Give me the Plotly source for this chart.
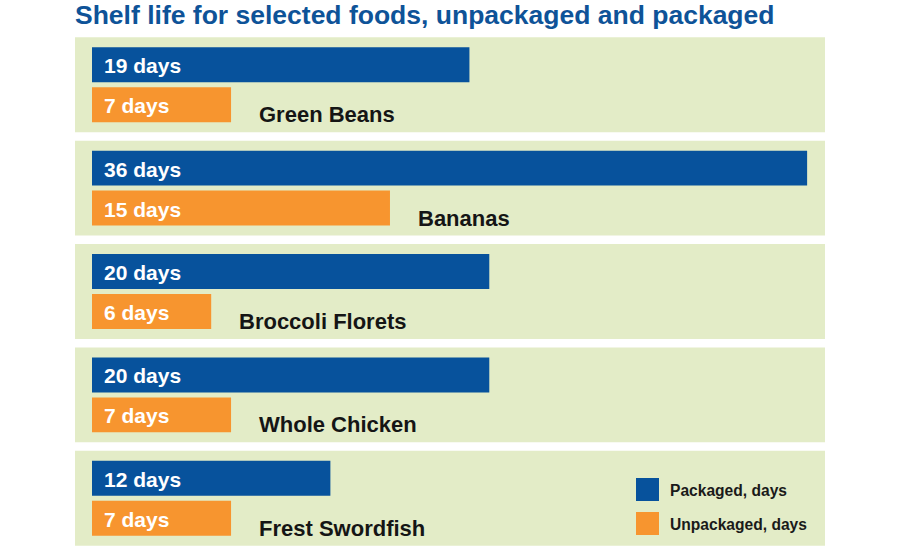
import plotly.graph_objects as go

categories = ["Green Beans", "Bananas", "Broccoli Florets", "Whole Chicken", "Frest Swordfish"]
packaged = [19, 36, 20, 20, 12]
unpackaged = [7, 15, 6, 7, 7]
series_names = ["Packaged, days", "Unpackaged, days"]
title_text = "Shelf life for selected foods, unpackaged and packaged"

BLUE = "#07529c"
ORANGE = "#f7952f"
PANEL = "#e3ecc7"
TITLE_C = "#0e5398"
FONT = "Liberation Sans, Arial, sans-serif"

W, H = 900, 550
L, R, T, B = 75, 75, 33, 0
PW, PH = W - L - R, H - T - B


def px_x(px):
    return (px - L) / PW


def px_y(py):
    return (H - B - py) / PH


fig = go.Figure()
fig.add_trace(go.Bar(y=categories, x=packaged, orientation="h", name=series_names[0],
                     marker=dict(color=BLUE, line=dict(width=0))))
fig.add_trace(go.Bar(y=categories, x=unpackaged, orientation="h", name=series_names[1],
                     marker=dict(color=ORANGE, line=dict(width=0))))

shapes = []
annotations = []
for i, cat in enumerate(categories):
    shapes.append(dict(type="rect", xref="x domain", yref="y", x0=0, x1=1,
                       y0=i - 0.459, y1=i + 0.459, fillcolor=PANEL,
                       line=dict(width=0), layer="below"))
    annotations.append(dict(x=0, y=cat, xref="x", yref="y", text=f"{packaged[i]} days",
                            showarrow=False, xanchor="left", yanchor="middle",
                            xshift=10, yshift=19,
                            font=dict(family=FONT, size=21, color="white", weight="bold")))
    annotations.append(dict(x=0, y=cat, xref="x", yref="y", text=f"{unpackaged[i]} days",
                            showarrow=False, xanchor="left", yanchor="middle",
                            xshift=10, yshift=-21,
                            font=dict(family=FONT, size=21, color="white", weight="bold")))
    annotations.append(dict(x=unpackaged[i], y=cat, xref="x", yref="y", text=cat,
                            showarrow=False, xanchor="left", yanchor="middle",
                            xshift=26, yshift=-30,
                            font=dict(family=FONT, size=22, color="#151515", weight="bold")))

# legend (manual)
for j, (name, col) in enumerate(zip(series_names, [BLUE, ORANGE])):
    top = 478 + j * 34
    shapes.append(dict(type="rect", xref="paper", yref="paper",
                       x0=px_x(636), x1=px_x(659), y0=px_y(top + 23), y1=px_y(top),
                       fillcolor=col, line=dict(width=0)))
    annotations.append(dict(x=px_x(668), y=px_y(top + 12), xref="paper", yref="paper",
                            text=name, showarrow=False, xanchor="left", yanchor="middle",
                            font=dict(family=FONT, size=15.6, color="#1a1a1a", weight="bold")))

fig.update_layout(
    width=W, height=H,
    margin=dict(l=L, r=R, t=T, b=B, pad=0),
    paper_bgcolor="white", plot_bgcolor="white",
    barmode="group", bargap=0.227, bargroupgap=0.125,
    showlegend=False,
    title=dict(text=title_text, x=L / W, xanchor="left", xref="container",
               y=1 - 15 / H, yanchor="middle", yref="container",
               font=dict(family=FONT, size=26.5, color=TITLE_C, weight="bold")),
    xaxis=dict(range=[-0.856, 36.9], visible=False, fixedrange=True),
    yaxis=dict(range=[4.5, -0.5], visible=False, fixedrange=True,
               categoryorder="array", categoryarray=categories),
    shapes=shapes, annotations=annotations,
)

fig.write_html("out.html")
